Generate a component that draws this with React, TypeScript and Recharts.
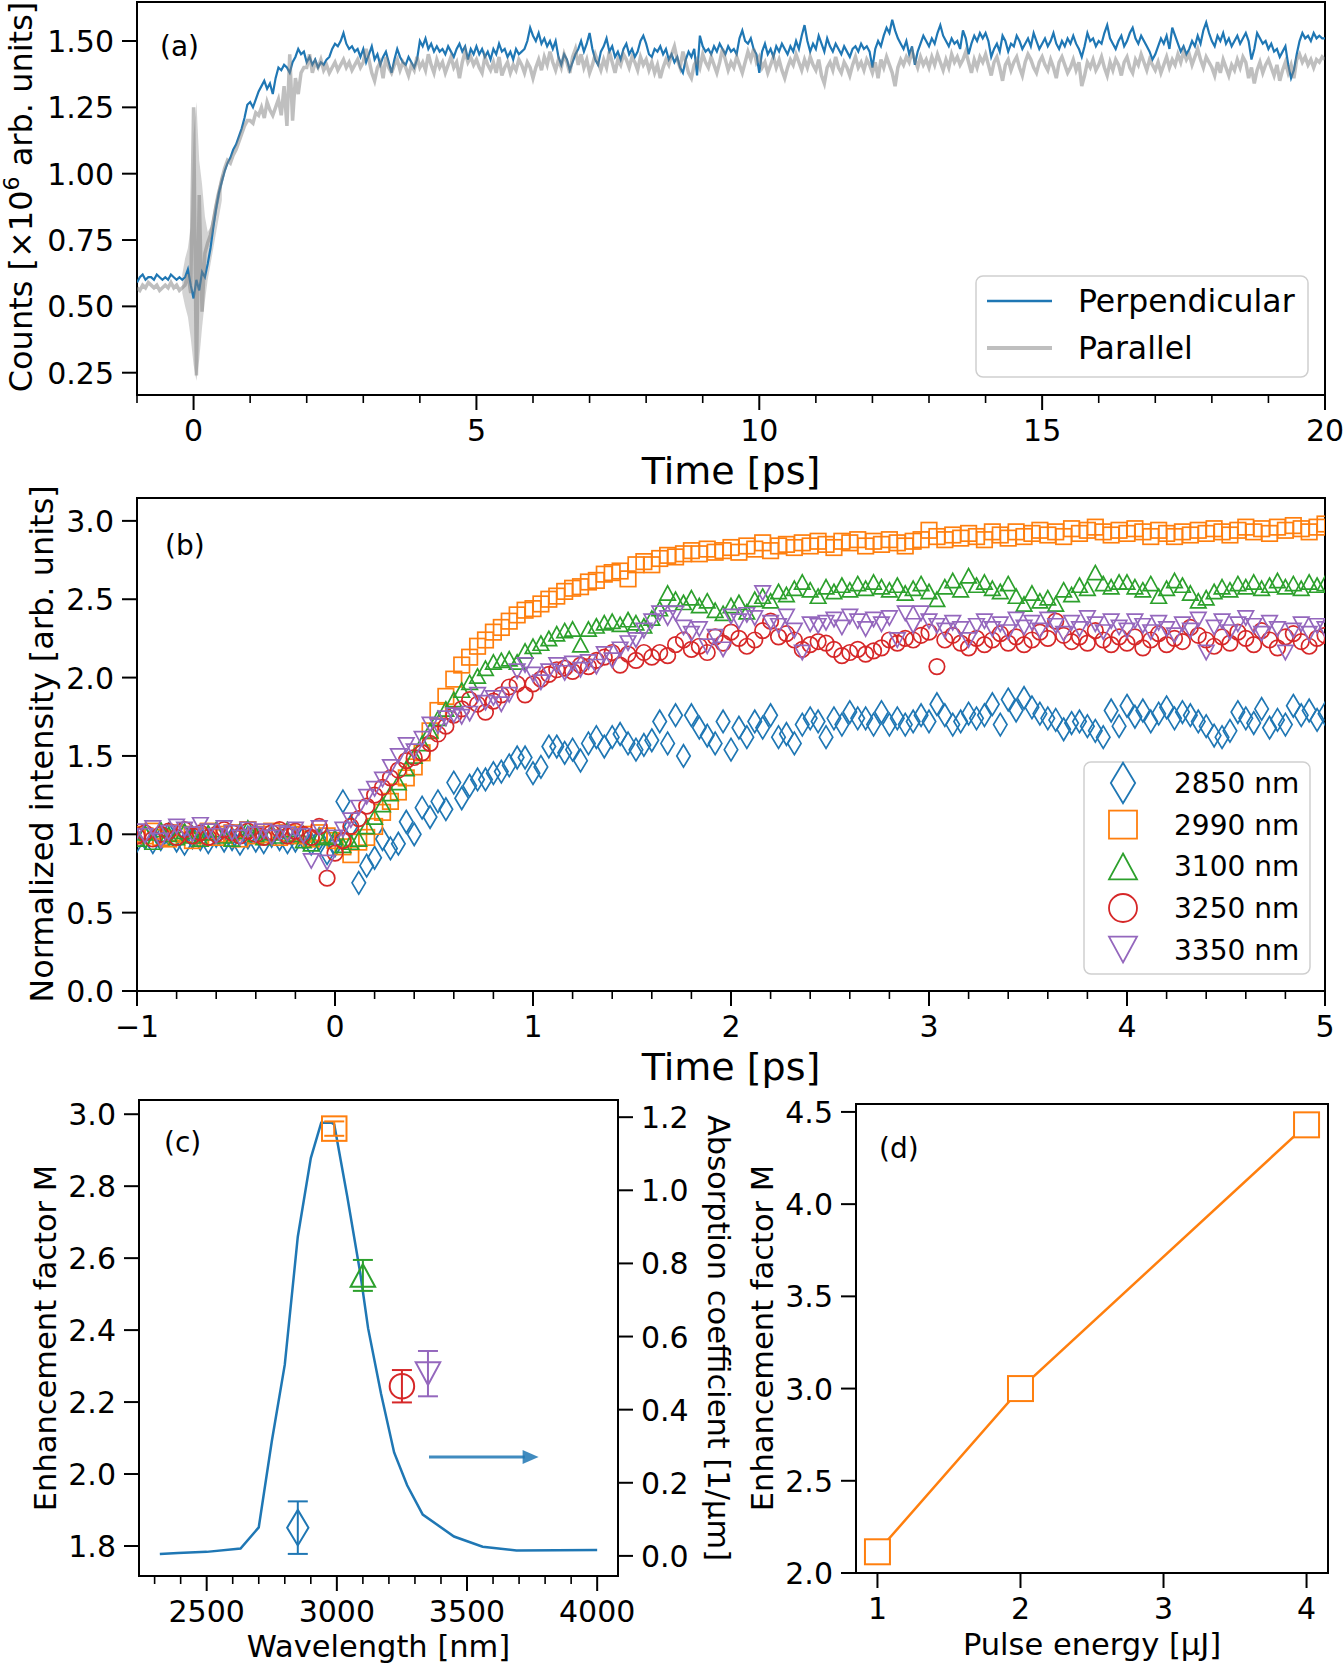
import React from "react";
import {
  Area,
  ComposedChart,
  ErrorBar,
  Legend,
  Line,
  ReferenceArea,
  ReferenceDot,
  ReferenceLine,
  Scatter,
  ScatterChart,
  XAxis,
  YAxis,
} from "recharts";

const FONT = "'DejaVu Sans', 'Noto Sans', sans-serif";
const TICK_FONT = 30;

const BLUE = "#1f77b4";
const ORANGE = "#ff7f0e";
const GREEN = "#2ca02c";
const RED = "#d62728";
const PURPLE = "#9467bd";
const GRAY = "#808080";

// ---------- (a) counts vs time, two polarisations ----------
const TIME_A_START = -1;
const TIME_A_STEP = 0.05;

// one row per picosecond (20 samples each)
const PERPENDICULAR = [
  0.59, 0.61, 0.62, 0.60, 0.61, 0.61, 0.60, 0.62, 0.61, 0.60, 0.61, 0.60, 0.62, 0.61, 0.60, 0.61, 0.60, 0.61, 0.64, 0.58,
  0.53, 0.60, 0.56, 0.63, 0.61, 0.66, 0.72, 0.80, 0.87, 0.93, 0.97, 1.01, 1.04, 1.06, 1.09, 1.11, 1.14, 1.17, 1.21, 1.26,
  1.27, 1.25, 1.28, 1.31, 1.33, 1.35, 1.32, 1.34, 1.30, 1.36, 1.40, 1.39, 1.41, 1.40, 1.38, 1.42, 1.44, 1.47, 1.45, 1.46,
  1.42, 1.44, 1.41, 1.43, 1.40, 1.42, 1.41, 1.43, 1.44, 1.47, 1.49, 1.48, 1.50, 1.53, 1.49, 1.47, 1.48, 1.46, 1.47, 1.44,
  1.47, 1.42, 1.45, 1.48, 1.43, 1.45, 1.41, 1.44, 1.46, 1.42, 1.38, 1.43, 1.47, 1.44, 1.42, 1.41, 1.44, 1.42, 1.40, 1.43,
  1.50, 1.48, 1.51, 1.47, 1.49, 1.46, 1.48, 1.46, 1.47, 1.45, 1.48, 1.46, 1.44, 1.47, 1.49, 1.46, 1.48, 1.43, 1.47, 1.45,
  1.48, 1.45, 1.47, 1.44, 1.46, 1.43, 1.47, 1.45, 1.49, 1.46, 1.47, 1.44, 1.46, 1.43, 1.47, 1.45, 1.46, 1.47, 1.50, 1.55,
  1.52, 1.50, 1.53, 1.49, 1.51, 1.48, 1.50, 1.47, 1.50, 1.44, 1.41, 1.45, 1.43, 1.39, 1.42, 1.45, 1.47, 1.50, 1.46, 1.49,
  1.53, 1.47, 1.43, 1.41, 1.46, 1.48, 1.51, 1.46, 1.48, 1.44, 1.46, 1.43, 1.47, 1.49, 1.45, 1.47, 1.44, 1.46, 1.50, 1.52,
  1.49, 1.45, 1.44, 1.47, 1.46, 1.48, 1.45, 1.47, 1.43, 1.45, 1.42, 1.44, 1.40, 1.38, 1.43, 1.46, 1.44, 1.47, 1.37, 1.52,
  1.48, 1.46, 1.47, 1.45, 1.48, 1.46, 1.49, 1.47, 1.45, 1.48, 1.46, 1.47, 1.45, 1.51, 1.54, 1.50, 1.49, 1.51, 1.47, 1.45,
  1.38, 1.46, 1.49, 1.45, 1.47, 1.44, 1.48, 1.46, 1.49, 1.47, 1.45, 1.48, 1.46, 1.50, 1.47, 1.52, 1.56, 1.50, 1.46, 1.49,
  1.47, 1.52, 1.49, 1.46, 1.51, 1.48, 1.46, 1.49, 1.47, 1.45, 1.48, 1.46, 1.44, 1.47, 1.48, 1.46, 1.49, 1.47, 1.48, 1.46,
  1.40, 1.47, 1.50, 1.48, 1.52, 1.55, 1.53, 1.58, 1.54, 1.51, 1.49, 1.47, 1.50, 1.45, 1.48, 1.41, 1.46, 1.49, 1.52, 1.50,
  1.48, 1.51, 1.49, 1.53, 1.56, 1.52, 1.50, 1.48, 1.51, 1.49, 1.50, 1.47, 1.54, 1.51, 1.45, 1.49, 1.52, 1.50, 1.53, 1.51,
  1.53, 1.50, 1.44, 1.47, 1.49, 1.46, 1.52, 1.50, 1.46, 1.49, 1.48, 1.52, 1.50, 1.47, 1.49, 1.51, 1.48, 1.53, 1.50, 1.47,
  1.49, 1.51, 1.48, 1.50, 1.53, 1.49, 1.47, 1.50, 1.48, 1.51, 1.49, 1.52, 1.49, 1.47, 1.44, 1.48, 1.53, 1.50, 1.51, 1.48,
  1.50, 1.49, 1.53, 1.56, 1.51, 1.49, 1.47, 1.50, 1.52, 1.48, 1.50, 1.53, 1.55, 1.51, 1.49, 1.52, 1.50, 1.48, 1.46, 1.43,
  1.45, 1.48, 1.51, 1.49, 1.52, 1.47, 1.55, 1.52, 1.49, 1.46, 1.48, 1.45, 1.47, 1.50, 1.48, 1.52, 1.49, 1.54, 1.57, 1.53,
  1.50, 1.48, 1.52, 1.50, 1.53, 1.49, 1.51, 1.48, 1.50, 1.52, 1.49, 1.51, 1.53, 1.50, 1.43, 1.47, 1.53, 1.51, 1.49, 1.50,
  1.47, 1.49, 1.46, 1.47, 1.44, 1.46, 1.48, 1.41, 1.36, 1.39, 1.45, 1.50, 1.53, 1.51, 1.52, 1.50, 1.53, 1.51, 1.52, 1.51,
  1.51,
];

const PARALLEL = [
  0.57, 0.56, 0.58, 0.57, 0.59, 0.58, 0.57, 0.58, 0.56, 0.57, 0.58, 0.57, 0.59, 0.57, 0.58, 0.56, 0.57, 0.58, 0.62, 0.55,
  1.25, 0.24, 0.92, 0.48, 0.70, 0.74, 0.77, 0.82, 0.88, 0.93, 0.98, 1.02, 1.05, 1.04, 1.07, 1.09, 1.12, 1.15, 1.18, 1.20,
  1.20, 1.19, 1.23, 1.22, 1.25, 1.21, 1.27, 1.24, 1.22, 1.25, 1.28, 1.22, 1.33, 1.18, 1.45, 1.20, 1.36, 1.30, 1.38, 1.40,
  1.40, 1.45, 1.38, 1.42, 1.40, 1.43, 1.39, 1.41, 1.38, 1.40, 1.42, 1.39, 1.41, 1.43, 1.40, 1.42, 1.39, 1.41, 1.43, 1.40,
  1.42, 1.47, 1.43, 1.38, 1.35, 1.40, 1.42, 1.36, 1.44, 1.40, 1.38, 1.41, 1.43, 1.39, 1.42, 1.40, 1.37, 1.41, 1.39, 1.44,
  1.40, 1.42, 1.39, 1.45, 1.41, 1.38, 1.43, 1.40, 1.42, 1.38, 1.41, 1.44, 1.40, 1.42, 1.36, 1.42, 1.46, 1.42, 1.44, 1.41,
  1.43, 1.40, 1.38, 1.44, 1.41, 1.39, 1.42, 1.38, 1.44, 1.37, 1.40, 1.42, 1.38, 1.41, 1.39, 1.43, 1.41, 1.38, 1.42, 1.40,
  1.36, 1.40, 1.43, 1.39, 1.44, 1.41, 1.46, 1.42, 1.39, 1.43, 1.40, 1.45, 1.42, 1.38, 1.44, 1.47, 1.41, 1.45, 1.40, 1.43,
  1.38, 1.41, 1.45, 1.42, 1.39, 1.43, 1.40, 1.46, 1.42, 1.38, 1.43, 1.41, 1.45, 1.43, 1.40, 1.44, 1.42, 1.39, 1.44, 1.41,
  1.43, 1.39, 1.42, 1.38, 1.41, 1.36, 1.40, 1.43, 1.41, 1.45, 1.48, 1.43, 1.40, 1.46, 1.42, 1.38, 1.36, 1.41, 1.43, 1.40,
  1.45, 1.42, 1.40, 1.44, 1.41, 1.38, 1.42, 1.47, 1.43, 1.39, 1.42, 1.40, 1.44, 1.41, 1.38, 1.42, 1.46, 1.43, 1.47, 1.42,
  1.44, 1.40, 1.42, 1.38, 1.41, 1.44, 1.40, 1.43, 1.39, 1.36, 1.40, 1.43, 1.41, 1.45, 1.42, 1.39, 1.43, 1.40, 1.44, 1.41,
  1.39, 1.43, 1.37, 1.34, 1.40, 1.42, 1.39, 1.44, 1.40, 1.38, 1.42, 1.40, 1.37, 1.41, 1.44, 1.40, 1.42, 1.39, 1.43, 1.41,
  1.38, 1.42, 1.36, 1.43, 1.40, 1.44, 1.41, 1.38, 1.33, 1.40, 1.43, 1.41, 1.44, 1.42, 1.46, 1.43, 1.40, 1.44, 1.41, 1.43,
  1.40, 1.44, 1.41, 1.45, 1.42, 1.39, 1.43, 1.40, 1.45, 1.42, 1.44, 1.41, 1.43, 1.46, 1.42, 1.38, 1.43, 1.40, 1.44, 1.42,
  1.45, 1.41, 1.37, 1.42, 1.44, 1.40, 1.35, 1.41, 1.43, 1.39, 1.42, 1.44, 1.40, 1.37, 1.42, 1.45, 1.43, 1.40, 1.38, 1.42,
  1.44, 1.41, 1.39, 1.43, 1.40, 1.36, 1.42, 1.44, 1.41, 1.38, 1.40, 1.43, 1.39, 1.42, 1.33, 1.37, 1.42, 1.40, 1.43, 1.39,
  1.41, 1.44, 1.40, 1.37, 1.42, 1.39, 1.43, 1.41, 1.37, 1.42, 1.44, 1.40, 1.38, 1.43, 1.41, 1.45, 1.42, 1.39, 1.43, 1.41,
  1.39, 1.42, 1.38, 1.41, 1.44, 1.40, 1.43, 1.41, 1.45, 1.42, 1.46, 1.43, 1.45, 1.41, 1.44, 1.47, 1.43, 1.40, 1.44, 1.42,
  1.40, 1.37, 1.42, 1.38, 1.43, 1.40, 1.37, 1.41, 1.39, 1.43, 1.40, 1.44, 1.42, 1.36, 1.40, 1.34, 1.39, 1.42, 1.38, 1.41,
  1.43, 1.40, 1.37, 1.41, 1.35, 1.39, 1.42, 1.38, 1.41, 1.36, 1.43, 1.45, 1.42, 1.44, 1.41, 1.43, 1.40, 1.43, 1.42, 1.44,
  1.43,
];

// shot-to-shot spread of the parallel trace around time zero
const SPREAD_T = [-0.2, -0.15, -0.1, -0.05, 0, 0.05, 0.1, 0.15, 0.2, 0.25, 0.3, 0.35, 0.4, 0.45, 0.5];
const SPREAD_LO = [0.55, 0.5, 0.46, 0.38, 0.28, 0.22, 0.3, 0.42, 0.52, 0.6, 0.66, 0.72, 0.78, 0.84, 0.9];
const SPREAD_HI = [0.62, 0.68, 0.72, 0.8, 1.15, 1.27, 1.05, 0.96, 0.84, 0.78, 0.8, 0.86, 0.92, 0.96, 1.0];

const A_X_TICKS = [-1, 0, 1, 2, 3, 4, 5, 6, 7, 8, 9, 10, 11, 12, 13, 14, 15, 16, 17, 18, 19, 20];
const A_X_LABELS = [0, 5, 10, 15, 20];
const A_Y_TICKS = [0.25, 0.5, 0.75, 1.0, 1.25, 1.5];

// ---------- (b) normalised intensity per wavelength ----------
const TIME_B_START = -1;
const TIME_B_STEP = 0.04;

// one row per picosecond (25 samples each)
const INT_2850 = [
  0.96, 0.98, 0.95, 0.97, 1.00, 0.96, 0.94, 0.98, 0.97, 0.95, 0.99, 0.96, 0.97, 0.94, 0.98, 0.96, 0.95, 0.99, 0.97, 0.95, 0.96, 0.98, 0.94, 0.97, 0.88,
  0.93, 1.21, 1.05, 0.69, 0.80, 0.85, 0.97, 0.91, 0.94, 1.08, 1.00, 1.17, 1.11, 1.21, 1.16, 1.33, 1.23, 1.31, 1.35, 1.35, 1.39, 1.40, 1.44, 1.49, 1.49,
  1.39, 1.43, 1.56, 1.56, 1.52, 1.54, 1.47, 1.58, 1.62, 1.56, 1.62, 1.64, 1.58, 1.54, 1.57, 1.60, 1.72, 1.58, 1.76, 1.50, 1.76, 1.68, 1.63, 1.58, 1.72,
  1.54, 1.68, 1.62, 1.72, 1.68, 1.76, 1.62, 1.64, 1.58, 1.70, 1.74, 1.72, 1.62, 1.74, 1.70, 1.78, 1.74, 1.74, 1.70, 1.78, 1.70, 1.74, 1.70, 1.72, 1.76,
  1.72, 1.83, 1.76, 1.70, 1.72, 1.77, 1.74, 1.76, 1.83, 1.70, 1.86, 1.79, 1.87, 1.81, 1.77, 1.74, 1.73, 1.67, 1.71, 1.72, 1.69, 1.66, 1.62, 1.79, 1.69,
  1.82, 1.75, 1.79, 1.72, 1.77, 1.81, 1.74, 1.78, 1.76, 1.72, 1.69, 1.63, 1.62, 1.66, 1.78, 1.74, 1.71, 1.80, 1.68, 1.73, 1.70, 1.82, 1.76, 1.79, 1.73,
  1.77,
];

const INT_2990 = [
  1.00, 0.99, 1.02, 0.98, 0.97, 1.01, 1.00, 0.96, 0.99, 1.02, 0.98, 1.00, 1.01, 0.97, 1.03, 0.99, 1.00, 1.02, 0.98, 1.01, 0.99, 1.00, 0.97, 1.01, 0.99,
  0.96, 0.92, 0.87, 0.95, 0.98, 1.05, 1.14, 1.21, 1.27, 1.36, 1.43, 1.52, 1.66, 1.79, 1.88, 1.99, 2.08, 2.13, 2.20, 2.24, 2.29, 2.32, 2.36, 2.40, 2.43,
  2.44, 2.47, 2.50, 2.52, 2.55, 2.57, 2.58, 2.61, 2.62, 2.66, 2.67, 2.68, 2.63, 2.72, 2.74, 2.72, 2.76, 2.78, 2.77, 2.79, 2.81, 2.79, 2.82, 2.80, 2.81,
  2.83, 2.80, 2.84, 2.82, 2.86, 2.81, 2.84, 2.85, 2.83, 2.86, 2.84, 2.87, 2.85, 2.83, 2.87, 2.86, 2.88, 2.84, 2.87, 2.85, 2.88, 2.86, 2.84, 2.87, 2.88,
  2.94, 2.90, 2.88, 2.91, 2.89, 2.92, 2.90, 2.88, 2.93, 2.91, 2.89, 2.93, 2.90, 2.92, 2.94, 2.91, 2.93, 2.90, 2.95, 2.92, 2.94, 2.96, 2.93, 2.91, 2.94,
  2.92, 2.95, 2.93, 2.90, 2.94, 2.92, 2.90, 2.93, 2.91, 2.94, 2.92, 2.95, 2.93, 2.91, 2.94, 2.96, 2.93, 2.95, 2.92, 2.96, 2.94, 2.97, 2.95, 2.93, 2.96,
  2.98,
];

const INT_3100 = [
  0.97, 1.01, 0.95, 1.03, 1.00, 0.98, 1.02, 0.99, 0.97, 1.01, 1.03, 0.99, 0.97, 1.02, 1.04, 1.00, 0.98, 1.01, 0.99, 1.03, 1.00, 0.96, 0.94, 0.98, 0.99,
  0.98, 0.93, 0.95, 0.97, 1.05, 1.11, 1.19, 1.26, 1.33, 1.42, 1.50, 1.58, 1.66, 1.74, 1.80, 1.86, 1.92, 1.97, 2.01, 2.06, 2.10, 2.11, 2.12, 2.10, 2.17,
  2.20, 2.22, 2.25, 2.28, 2.30, 2.31, 2.21, 2.31, 2.33, 2.35, 2.36, 2.34, 2.37, 2.35, 2.33, 2.38, 2.44, 2.54, 2.50, 2.48, 2.51, 2.46, 2.49, 2.43, 2.41,
  2.46, 2.48, 2.42, 2.50, 2.52, 2.49, 2.55, 2.53, 2.57, 2.61, 2.56, 2.52, 2.58, 2.55, 2.59, 2.56, 2.60, 2.57, 2.61, 2.58, 2.56, 2.59, 2.54, 2.57, 2.60,
  2.55, 2.50, 2.58, 2.62, 2.56, 2.65, 2.59, 2.61, 2.57, 2.55, 2.60, 2.52, 2.47, 2.54, 2.49, 2.51, 2.47, 2.56, 2.53, 2.59, 2.57, 2.67, 2.60, 2.58, 2.61,
  2.61, 2.58, 2.56, 2.60, 2.52, 2.57, 2.62, 2.59, 2.54, 2.49, 2.51, 2.55, 2.58, 2.56, 2.60, 2.58, 2.61, 2.57, 2.59, 2.62, 2.58, 2.60, 2.57, 2.61, 2.59,
  2.60,
];

const INT_3250 = [
  0.99, 1.01, 0.97, 1.00, 1.02, 0.98, 1.03, 0.99, 1.01, 0.98, 1.00, 1.03, 1.01, 0.99, 1.02, 1.00, 0.98, 1.01, 1.03, 0.99, 1.02, 1.00, 0.98, 1.05, 0.72,
  0.88, 0.96, 1.05, 1.10, 1.18, 1.25, 1.30, 1.36, 1.41, 1.47, 1.49, 1.52, 1.58, 1.64, 1.69, 1.76, 1.80, 1.86, 1.83, 1.78, 1.85, 1.89, 1.94, 1.96, 1.89,
  1.96, 1.99, 2.02, 2.05, 2.06, 2.04, 2.08, 2.07, 2.11, 2.13, 2.16, 2.08, 2.15, 2.11, 2.16, 2.13, 2.16, 2.14, 2.21, 2.24, 2.18, 2.20, 2.16, 2.26, 2.22,
  2.29, 2.25, 2.20, 2.24, 2.30, 2.36, 2.26, 2.28, 2.24, 2.18, 2.21, 2.23, 2.22, 2.18, 2.14, 2.16, 2.18, 2.15, 2.17, 2.19, 2.24, 2.22, 2.25, 2.24, 2.27,
  2.29, 2.07, 2.24, 2.27, 2.22, 2.19, 2.25, 2.21, 2.24, 2.28, 2.22, 2.26, 2.21, 2.24, 2.29, 2.25, 2.36, 2.27, 2.23, 2.26, 2.22, 2.30, 2.24, 2.21, 2.26,
  2.22, 2.26, 2.19, 2.24, 2.28, 2.21, 2.25, 2.23, 2.32, 2.27, 2.24, 2.20, 2.26, 2.22, 2.29, 2.25, 2.21, 2.30, 2.24, 2.19, 2.26, 2.28, 2.23, 2.20, 2.25,
  2.27,
];

const INT_3350 = [
  1.02, 0.99, 1.04, 0.96, 1.01, 1.05, 1.03, 1.00, 1.06, 1.02, 0.99, 1.04, 1.01, 0.98, 1.03, 1.00, 1.02, 0.98, 1.01, 1.00, 1.03, 0.99, 0.83, 1.04, 0.82,
  0.98, 1.03, 1.09, 1.17, 1.24, 1.29, 1.35, 1.43, 1.50, 1.57, 1.53, 1.61, 1.70, 1.69, 1.74, 1.76, 1.75, 1.77, 1.89, 1.84, 1.87, 1.83, 1.89, 2.04, 2.08,
  2.02, 1.97, 2.04, 2.08, 2.03, 2.09, 2.05, 2.10, 2.07, 2.15, 2.11, 2.18, 2.22, 2.24, 2.30, 2.36, 2.41, 2.38, 2.41, 2.32, 2.28, 2.31, 2.20, 2.26, 2.18,
  2.39, 2.36, 2.40, 2.38, 2.54, 2.35, 2.33, 2.39, 2.30, 2.16, 2.34, 2.33, 2.35, 2.37, 2.32, 2.39, 2.36, 2.31, 2.37, 2.34, 2.38, 2.24, 2.41, 2.33, 2.41,
  2.36, 2.33, 2.30, 2.35, 2.31, 2.24, 2.33, 2.36, 2.31, 2.34, 2.29, 2.37, 2.32, 2.35, 2.30, 2.37, 2.33, 2.28, 2.35, 2.31, 2.38, 2.34, 2.29, 2.36, 2.32,
  2.30, 2.36, 2.33, 2.29, 2.35, 2.31, 2.27, 2.34, 2.30, 2.37, 2.16, 2.32, 2.36, 2.29, 2.34, 2.38, 2.33, 2.28, 2.35, 2.31, 2.16, 2.30, 2.34, 2.28, 2.33,
  2.31,
];

const B_X_TICKS = [
  -1, -0.8, -0.6, -0.4, -0.2, 0, 0.2, 0.4, 0.6, 0.8, 1, 1.2, 1.4, 1.6, 1.8, 2, 2.2, 2.4, 2.6, 2.8, 3, 3.2, 3.4, 3.6,
  3.8, 4, 4.2, 4.4, 4.6, 4.8, 5,
];
const B_X_LABELS = [-1, 0, 1, 2, 3, 4, 5];
const B_Y_TICKS = [0, 0.5, 1.0, 1.5, 2.0, 2.5, 3.0];

// ---------- (c) enhancement factor and absorption vs wavelength ----------
const ABS_WAVELENGTH = [
  2320, 2390, 2500, 2630, 2700, 2750, 2800, 2850, 2900, 2940, 2980, 2990, 3040, 3090, 3120, 3170, 3220, 3270,
  3330, 3450, 3560, 3690, 4000,
];
const ABS_COEFF = [
  0.005, 0.008, 0.011, 0.02, 0.078, 0.313, 0.523, 0.873, 1.088, 1.185, 1.185, 1.18, 0.983, 0.773, 0.623, 0.443,
  0.283, 0.193, 0.113, 0.053, 0.025, 0.015, 0.016,
];
const PEAK_WAVELENGTH = [2850, 2990, 3100, 3250, 3350];
const PEAK_M = [1.851, 2.96, 2.552, 2.244, 2.279];
const PEAK_M_ERR = [0.073, 0.02, 0.043, 0.045, 0.063];

const C_X_TICKS = [
  2300, 2400, 2500, 2600, 2700, 2800, 2900, 3000, 3100, 3200, 3300, 3400, 3500, 3600, 3700, 3800, 3900, 4000,
];
const C_X_LABELS = [2500, 3000, 3500, 4000];
const C_LEFT_TICKS = [1.8, 2.0, 2.2, 2.4, 2.6, 2.8, 3.0];
const C_RIGHT_TICKS = [0, 0.2, 0.4, 0.6, 0.8, 1.0, 1.2];

// ---------- (d) enhancement factor vs pulse energy ----------
const PULSE_ENERGY = [1, 2, 4];
const PULSE_M = [2.115, 3.0, 4.43];
const D_X_TICKS = [1, 2, 3, 4];
const D_Y_TICKS = [2.0, 2.5, 3.0, 3.5, 4.0, 4.5];

type MarkerKind = "diamond" | "square" | "triangle" | "circle" | "triangleDown";

const WAVELENGTH_SERIES: { label: string; kind: MarkerKind; color: string; values: number[] }[] = [
  { label: "2850 nm", kind: "diamond", color: BLUE, values: INT_2850 },
  { label: "2990 nm", kind: "square", color: ORANGE, values: INT_2990 },
  { label: "3100 nm", kind: "triangle", color: GREEN, values: INT_3100 },
  { label: "3250 nm", kind: "circle", color: RED, values: INT_3250 },
  { label: "3350 nm", kind: "triangleDown", color: PURPLE, values: INT_3350 },
];

const round3 = (v: number) => Math.round(v * 1000) / 1000;

const rowsA = PERPENDICULAR.map((v, i) => ({
  t: round3(TIME_A_START + i * TIME_A_STEP),
  perp: v,
  par: PARALLEL[i],
}));
const spreadRows = SPREAD_T.map((t, i) => ({ t, spread: [SPREAD_LO[i], SPREAD_HI[i]] }));

const seriesRowsB = WAVELENGTH_SERIES.map((s) =>
  s.values.map((v, i) => ({ t: round3(TIME_B_START + i * TIME_B_STEP), v })),
);

const absRows = ABS_WAVELENGTH.map((x, i) => ({ x, abs: ABS_COEFF[i] }));
const pulseRows = PULSE_ENERGY.map((e, i) => ({ e, m: PULSE_M[i] }));

function Marker({
  kind,
  cx,
  cy,
  size,
  color,
  width = 1.5,
  fill = "none",
}: {
  kind: MarkerKind;
  cx: number;
  cy: number;
  size: number;
  color: string;
  width?: number;
  fill?: string;
}) {
  const h = size / 2;
  const style = { fill, stroke: color, strokeWidth: width, strokeLinejoin: "miter" as const };
  if (kind === "square") return <rect x={cx - h} y={cy - h} width={size} height={size} {...style} />;
  if (kind === "circle") return <circle cx={cx} cy={cy} r={h} {...style} />;
  if (kind === "diamond") {
    const dh = size * 0.725;
    const dw = dh * 0.6;
    return <path d={`M${cx},${cy - dh}L${cx + dw},${cy}L${cx},${cy + dh}L${cx - dw},${cy}Z`} {...style} />;
  }
  const th = size * 0.46;
  if (kind === "triangle")
    return <path d={`M${cx},${cy - th}L${cx + h},${cy + th}L${cx - h},${cy + th}Z`} {...style} />;
  return <path d={`M${cx},${cy + th}L${cx + h},${cy - th}L${cx - h},${cy - th}Z`} {...style} />;
}

const isIn = (list: number[], v: number) => list.some((m) => Math.abs(m - v) < 1e-9);

function bottomTick(labelled: number[], fmt: (v: number) => string) {
  return (p: any) => {
    const v = p.payload.value;
    const major = isIn(labelled, v);
    return (
      <g>
        <line x1={p.x} x2={p.x} y1={p.y} y2={p.y + (major ? 15 : 8)} stroke="#000" strokeWidth={major ? 2 : 1.6} />
        {major ? (
          <text x={p.x} y={p.y + 46} textAnchor="middle" fontFamily={FONT} fontSize={TICK_FONT} fill="#000">
            {fmt(v)}
          </text>
        ) : null}
      </g>
    );
  };
}

function leftTick(fmt: (v: number) => string) {
  return (p: any) => (
    <g>
      <line x1={p.x - 15} x2={p.x} y1={p.y} y2={p.y} stroke="#000" strokeWidth={2} />
      <text x={p.x - 23} y={p.y + 11} textAnchor="end" fontFamily={FONT} fontSize={TICK_FONT} fill="#000">
        {fmt(p.payload.value)}
      </text>
    </g>
  );
}

function rightTick(fmt: (v: number) => string) {
  return (p: any) => (
    <g>
      <line x1={p.x} x2={p.x + 15} y1={p.y} y2={p.y} stroke="#000" strokeWidth={2} />
      <text x={p.x + 23} y={p.y + 11} textAnchor="start" fontFamily={FONT} fontSize={TICK_FONT} fill="#000">
        {fmt(p.payload.value)}
      </text>
    </g>
  );
}

const signed = (v: number) => (v < 0 ? `\u2212${Math.abs(v)}` : String(v));

function PolarisationLegend() {
  return (
    <svg width={334} height={103} style={{ display: "block" }} fontFamily={FONT}>
      <rect x={1} y={1} width={332} height={101} rx={7} fill="#fff" fillOpacity={0.8} stroke="#cfcfcf" strokeWidth={1.5} />
      <line x1={12} x2={77} y1={26} y2={26} stroke={BLUE} strokeWidth={2.5} />
      <text x={103} y={37} fontSize={31.5} fill="#000">
        Perpendicular
      </text>
      <line x1={12} x2={77} y1={73} y2={73} stroke={GRAY} strokeOpacity={0.5} strokeWidth={4} />
      <text x={103} y={84} fontSize={31.5} fill="#000">
        Parallel
      </text>
    </svg>
  );
}

function WavelengthLegend() {
  const rows = [22, 63.6, 105.4, 147, 188.6];
  return (
    <svg width={228} height={214} style={{ display: "block" }} fontFamily={FONT}>
      <rect x={1} y={1} width={226} height={212} rx={7} fill="#fff" fillOpacity={0.8} stroke="#cfcfcf" strokeWidth={1.5} />
      {WAVELENGTH_SERIES.map((s, i) => (
        <g key={s.label}>
          <Marker kind={s.kind} cx={40} cy={rows[i]} size={28} color={s.color} width={1.8} />
          <text x={91} y={rows[i] + 10} fontSize={28} fill="#000">
            {s.label}
          </text>
        </g>
      ))}
    </svg>
  );
}

function PanelA() {
  return (
    <ComposedChart width={1344} height={450} data={rowsA} margin={{ top: 2, right: 19, left: 0, bottom: 0 }}>
      <XAxis
        dataKey="t"
        type="number"
        domain={[-1, 20]}
        allowDataOverflow
        ticks={A_X_TICKS}
        interval={0}
        height={55}
        tickSize={0}
        tickMargin={0}
        axisLine={false}
        tickLine={false}
        tick={bottomTick(A_X_LABELS, String)}
      />
      <YAxis
        type="number"
        domain={[0.166, 1.647]}
        allowDataOverflow
        ticks={A_Y_TICKS}
        interval={0}
        width={137}
        tickSize={0}
        tickMargin={0}
        axisLine={false}
        tickLine={false}
        tick={leftTick((v) => v.toFixed(2))}
      />
      <Area
        data={spreadRows}
        dataKey="spread"
        type="linear"
        stroke="none"
        fill={GRAY}
        fillOpacity={0.35}
        isAnimationActive={false}
      />
      <Line dataKey="perp" type="linear" stroke={BLUE} strokeWidth={2.2} dot={false} activeDot={false} isAnimationActive={false} />
      <Line
        dataKey="par"
        type="linear"
        stroke={GRAY}
        strokeOpacity={0.5}
        strokeWidth={3.5}
        dot={false}
        activeDot={false}
        isAnimationActive={false}
      />
      <ReferenceArea x1={-1} x2={20} y1={0.166} y2={1.647} fill="none" stroke="#000" strokeWidth={2} ifOverflow="visible" />
      <Legend
        layout="vertical"
        align="center"
        verticalAlign="middle"
        wrapperStyle={{ left: 975, top: 275, width: 334, height: 103 }}
        content={() => <PolarisationLegend />}
      />
    </ComposedChart>
  );
}

function PanelB() {
  return (
    <ScatterChart width={1344} height={560} margin={{ top: 8, right: 19, left: 0, bottom: 0 }}>
      <XAxis
        dataKey="t"
        type="number"
        domain={[-1, 5]}
        allowDataOverflow
        ticks={B_X_TICKS}
        interval={0}
        height={59}
        tickSize={0}
        tickMargin={0}
        axisLine={false}
        tickLine={false}
        tick={bottomTick(B_X_LABELS, signed)}
      />
      <YAxis
        dataKey="v"
        type="number"
        domain={[0, 3.146]}
        allowDataOverflow
        ticks={B_Y_TICKS}
        interval={0}
        width={137}
        tickSize={0}
        tickMargin={0}
        axisLine={false}
        tickLine={false}
        tick={leftTick((v) => v.toFixed(1))}
      />
      {WAVELENGTH_SERIES.map((s, i) => (
        <Scatter
          key={s.label}
          name={s.label}
          data={seriesRowsB[i]}
          isAnimationActive={false}
          shape={(p: any) => <Marker kind={s.kind} cx={p.cx} cy={p.cy} size={15.5} color={s.color} width={1.7} />}
        />
      ))}
      <ReferenceArea x1={-1} x2={5} y1={0} y2={3.146} fill="none" stroke="#000" strokeWidth={2} ifOverflow="visible" />
      <Legend
        layout="vertical"
        align="center"
        verticalAlign="middle"
        wrapperStyle={{ left: 1083, top: 271, width: 228, height: 214 }}
        content={() => <WavelengthLegend />}
      />
    </ScatterChart>
  );
}

function PanelC() {
  return (
    <ComposedChart width={700} height={574} margin={{ top: 10, right: 0, left: 0, bottom: 0 }}>
      <XAxis
        dataKey="x"
        type="number"
        domain={[2240, 4080]}
        allowDataOverflow
        ticks={C_X_TICKS}
        interval={0}
        height={88}
        tickSize={0}
        tickMargin={0}
        axisLine={false}
        tickLine={false}
        tick={bottomTick(C_X_LABELS, String)}
      />
      <YAxis
        yAxisId="m"
        dataKey="m"
        type="number"
        domain={[1.7166, 3.0395]}
        allowDataOverflow
        ticks={C_LEFT_TICKS}
        interval={0}
        width={139}
        tickSize={0}
        tickMargin={0}
        axisLine={false}
        tickLine={false}
        tick={leftTick((v) => v.toFixed(1))}
      />
      <YAxis
        yAxisId="abs"
        orientation="right"
        type="number"
        domain={[-0.055, 1.247]}
        allowDataOverflow
        ticks={C_RIGHT_TICKS}
        interval={0}
        width={82}
        tickSize={0}
        tickMargin={0}
        axisLine={false}
        tickLine={false}
        tick={rightTick((v) => v.toFixed(1))}
      />
      <Line
        yAxisId="abs"
        data={absRows}
        dataKey="abs"
        type="linear"
        stroke={BLUE}
        strokeWidth={2.5}
        dot={false}
        activeDot={false}
        isAnimationActive={false}
      />
      {WAVELENGTH_SERIES.map((s, i) => (
        <Scatter
          key={s.label}
          yAxisId="m"
          name={s.label}
          data={[{ x: PEAK_WAVELENGTH[i], m: PEAK_M[i], err: PEAK_M_ERR[i] }]}
          isAnimationActive={false}
          shape={(p: any) => <Marker kind={s.kind} cx={p.cx} cy={p.cy} size={24.5} color={s.color} width={2} />}
        >
          <ErrorBar dataKey="err" direction="y" width={10} stroke={s.color} strokeWidth={2} />
        </Scatter>
      ))}
      <ReferenceLine
        yAxisId="m"
        segment={[
          { x: 3354, y: 2.047 },
          { x: 3722, y: 2.047 },
        ]}
        stroke={BLUE}
        strokeOpacity={0.85}
        strokeWidth={3}
        ifOverflow="visible"
      />
      <ReferenceDot
        yAxisId="m"
        x={3775}
        y={2.047}
        ifOverflow="visible"
        shape={(p: any) => (
          <path
            d={`M${p.cx},${p.cy}L${p.cx - 16},${p.cy - 7}L${p.cx - 16},${p.cy + 7}Z`}
            fill={BLUE}
            fillOpacity={0.85}
          />
        )}
      />
      <ReferenceArea
        yAxisId="m"
        x1={2240}
        x2={4080}
        y1={1.7166}
        y2={3.0395}
        fill="none"
        stroke="#000"
        strokeWidth={2}
        ifOverflow="visible"
      />
    </ComposedChart>
  );
}

function PanelD() {
  return (
    <ComposedChart width={644} height={574} data={pulseRows} margin={{ top: 14, right: 16, left: 0, bottom: 0 }}>
      <XAxis
        dataKey="e"
        type="number"
        domain={[0.85, 4.15]}
        allowDataOverflow
        ticks={D_X_TICKS}
        interval={0}
        height={91}
        tickSize={0}
        tickMargin={0}
        axisLine={false}
        tickLine={false}
        tick={bottomTick(D_X_TICKS, String)}
      />
      <YAxis
        type="number"
        domain={[2.0, 4.543]}
        allowDataOverflow
        ticks={D_Y_TICKS}
        interval={0}
        width={156}
        tickSize={0}
        tickMargin={0}
        axisLine={false}
        tickLine={false}
        tick={leftTick((v) => v.toFixed(1))}
      />
      <Line
        dataKey="m"
        type="linear"
        stroke={ORANGE}
        strokeWidth={2.5}
        activeDot={false}
        isAnimationActive={false}
        dot={(p: any) => (
          <rect
            key={`sq-${p.index}`}
            x={p.cx - 12.5}
            y={p.cy - 12.5}
            width={25}
            height={25}
            fill="#fff"
            stroke={ORANGE}
            strokeWidth={2}
          />
        )}
      />
      <ReferenceArea x1={0.85} x2={4.15} y1={2.0} y2={4.543} fill="none" stroke="#000" strokeWidth={2} ifOverflow="visible" />
    </ComposedChart>
  );
}

function Titles() {
  return (
    <svg
      width={1344}
      height={1664}
      style={{ position: "absolute", left: 0, top: 0, pointerEvents: "none" }}
      fontFamily={FONT}
      fill="#000"
    >
      <text x={160} y={56} fontSize={28}>(a)</text>
      <text x={165} y={555} fontSize={28}>(b)</text>
      <text x={164} y={1152} fontSize={28}>(c)</text>
      <text x={879} y={1158} fontSize={28}>(d)</text>

      <text transform="translate(31.5,197) rotate(-90)" textAnchor="middle" fontSize={32}>
        Counts [×10
        <tspan dy={-13} fontSize={22}>
          6
        </tspan>
        <tspan dy={13}> arb. units]</tspan>
      </text>
      <text x={731} y={484} textAnchor="middle" fontSize={38}>
        Time [ps]
      </text>

      <text transform="translate(52.5,744) rotate(-90)" textAnchor="middle" fontSize={32}>
        Normalized intensity [arb. units]
      </text>
      <text x={731} y={1080} textAnchor="middle" fontSize={38}>
        Time [ps]
      </text>

      <text transform="translate(56,1338) rotate(-90)" textAnchor="middle" fontSize={30.5}>
        Enhancement factor M
      </text>
      <text transform="translate(708,1338) rotate(90)" textAnchor="middle" fontSize={30.5}>
        Absorption coefficient [1/μm]
      </text>
      <text x={378.5} y={1657} textAnchor="middle" fontSize={30.5}>
        Wavelength [nm]
      </text>

      <text transform="translate(773,1338) rotate(-90)" textAnchor="middle" fontSize={30.5}>
        Enhancement factor M
      </text>
      <text x={1092} y={1655} textAnchor="middle" fontSize={30.5}>
        Pulse energy [μJ]
      </text>
    </svg>
  );
}

export default function App() {
  return (
    <div style={{ position: "absolute", left: 0, top: 0, width: 1344, height: 1664, background: "#fff", fontFamily: FONT }}>
      <div style={{ position: "absolute", left: 0, top: 0 }}>
        <PanelA />
      </div>
      <div style={{ position: "absolute", left: 0, top: 490 }}>
        <PanelB />
      </div>
      <div style={{ position: "absolute", left: 0, top: 1090 }}>
        <PanelC />
      </div>
      <div style={{ position: "absolute", left: 700, top: 1090 }}>
        <PanelD />
      </div>
      <Titles />
    </div>
  );
}
